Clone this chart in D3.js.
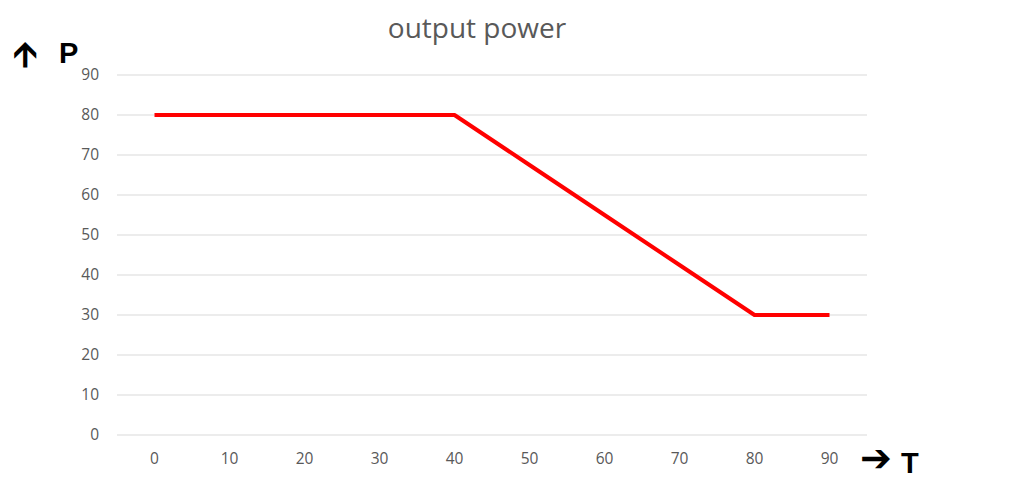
<!DOCTYPE html>
<html>
<head>
<meta charset="utf-8">
<script src="https://cdn.jsdelivr.net/npm/d3@7"></script>
<style>
  body { margin: 0; background: #fff; }
  svg text { font-family: "Open Sans", "Noto Sans", sans-serif; }
</style>
</head>
<body>
<div id="chart"></div>
<script>
// chart data
const temps = [0, 10, 20, 30, 40, 50, 60, 70, 80, 90];
const power = [80, 80, 80, 80, 80, 67.5, 55, 42.5, 30, 30];
const yTicks = [0, 10, 20, 30, 40, 50, 60, 70, 80, 90];
const chartTitle = 'output power';

const width = 1024;
const height = 502;
const plotLeft = 117, plotRight = 867, plotTop = 75, plotBottom = 435;

const svg = d3.select('#chart')
  .append('svg')
  .attr('width', width)
  .attr('height', height);

const xScale = d3.scaleBand()
  .domain(temps)
  .range([plotLeft, plotRight]);

const yScale = d3.scaleLinear()
  .domain([0, 90])
  .range([plotBottom, plotTop]);

// gridlines
svg.append('g')
  .selectAll('line')
  .data(yTicks)
  .enter()
  .append('line')
  .attr('x1', plotLeft)
  .attr('x2', plotRight)
  .attr('y1', d => yScale(d))
  .attr('y2', d => yScale(d))
  .attr('stroke', '#d9d9d9')
  .attr('stroke-width', 1.2);

// y labels
const yAxis = d3.axisLeft(yScale).tickValues(yTicks).tickSize(0).tickPadding(18);
const gy = svg.append('g')
  .attr('transform', `translate(${plotLeft}, 0)`)
  .call(yAxis);
gy.select('.domain').remove();
gy.selectAll('text')
  .attr('fill', '#595959')
  .attr('font-size', 15.5);

// x labels
const xAxis = d3.axisBottom(xScale).tickSize(0).tickPadding(18);
const gx = svg.append('g')
  .attr('transform', `translate(0, ${plotBottom})`)
  .call(xAxis);
gx.select('.domain').remove();
gx.selectAll('text')
  .attr('fill', '#595959')
  .attr('font-size', 15.5);

// line
const line = d3.line()
  .x((d, i) => xScale(temps[i]) + xScale.bandwidth() / 2)
  .y(d => yScale(d));

svg.append('path')
  .datum(power)
  .attr('d', line)
  .attr('fill', 'none')
  .attr('stroke', '#ff0000')
  .attr('stroke-width', 4)
  .attr('stroke-linejoin', 'round');

// title
svg.append('text')
  .attr('x', 477)
  .attr('y', 38)
  .attr('text-anchor', 'middle')
  .attr('fill', '#595959')
  .attr('font-size', 28)
  .text(chartTitle);

// axis arrows and names
svg.append('text')
  .attr('x', 25)
  .attr('y', 66)
  .attr('text-anchor', 'middle')
  .attr('font-size', 34)
  .attr('font-weight', 'bold')
  .attr('fill', '#000')
  .style('font-family', '"DejaVu Sans", sans-serif')
  .text('🡩');

svg.append('text')
  .attr('x', 59)
  .attr('y', 63)
  .attr('font-size', 29)
  .attr('font-weight', 'bold')
  .attr('fill', '#000')
  .style('font-family', '"Liberation Sans", Arial, sans-serif')
  .text('P');

svg.append('text')
  .attr('x', 860)
  .attr('y', 471)
  .attr('font-size', 38)
  .attr('font-weight', 'bold')
  .attr('fill', '#000')
  .style('font-family', '"DejaVu Sans", sans-serif')
  .text('➔');

svg.append('text')
  .attr('x', 901)
  .attr('y', 473)
  .attr('font-size', 29)
  .attr('font-weight', 'bold')
  .attr('fill', '#000')
  .style('font-family', '"Liberation Sans", Arial, sans-serif')
  .text('T');
</script>
</body>
</html>
